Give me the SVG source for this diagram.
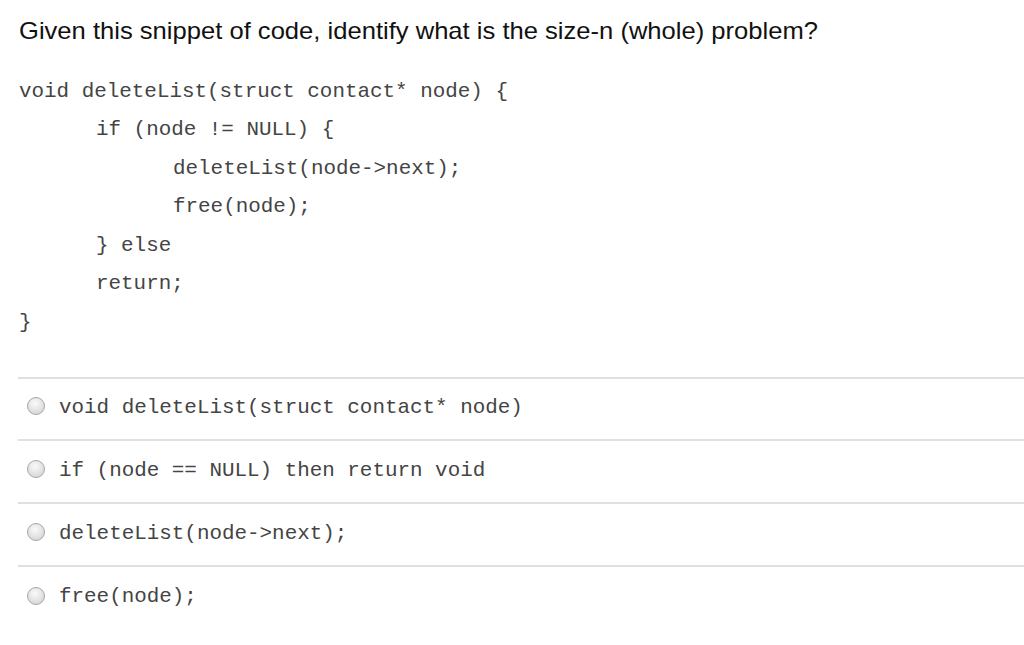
<svg xmlns="http://www.w3.org/2000/svg" width="1024" height="645" viewBox="0 0 1024 645">
<style>
.t{font-family:"Liberation Sans",Arial,sans-serif;font-size:24px;fill:#111}
.c{font-family:"Liberation Mono","Courier New",monospace;font-size:20.9px;fill:#444}
.sep{stroke:#e0e0e0;stroke-width:2}
.r{fill:url(#g);stroke:#a8a8a8;stroke-width:1}
</style>
<defs><radialGradient id="g" cx="0.45" cy="0.35" r="0.7"><stop offset="0" stop-color="#fafafa"/><stop offset="1" stop-color="#d4d4d4"/></radialGradient></defs>
<rect width="1024" height="645" fill="#fff"/>
<text class="t" x="19" y="39" textLength="799" lengthAdjust="spacingAndGlyphs">Given this snippet of code, identify what is the size-n (whole) problem?</text>
<text class="c" x="19" y="97">void deleteList(struct contact* node) {</text>
<text class="c" x="96" y="135">if (node != NULL) {</text>
<text class="c" x="173" y="174">deleteList(node-&gt;next);</text>
<text class="c" x="173" y="212">free(node);</text>
<text class="c" x="96" y="251">} else</text>
<text class="c" x="96" y="289">return;</text>
<text class="c" x="19" y="328">}</text>
<line class="sep" x1="18" y1="378" x2="1024" y2="378"/>
<line class="sep" x1="18" y1="440" x2="1024" y2="440"/>
<line class="sep" x1="18" y1="503" x2="1024" y2="503"/>
<line class="sep" x1="18" y1="566" x2="1024" y2="566"/>
<circle class="r" cx="36" cy="406" r="8.5"/>
<circle class="r" cx="36" cy="469" r="8.5"/>
<circle class="r" cx="36" cy="532" r="8.5"/>
<circle class="r" cx="36" cy="596" r="8.5"/>
<text class="c" x="59" y="413">void deleteList(struct contact* node)</text>
<text class="c" x="59" y="476">if (node == NULL) then return void</text>
<text class="c" x="59" y="539">deleteList(node-&gt;next);</text>
<text class="c" x="59" y="602">free(node);</text>
</svg>
